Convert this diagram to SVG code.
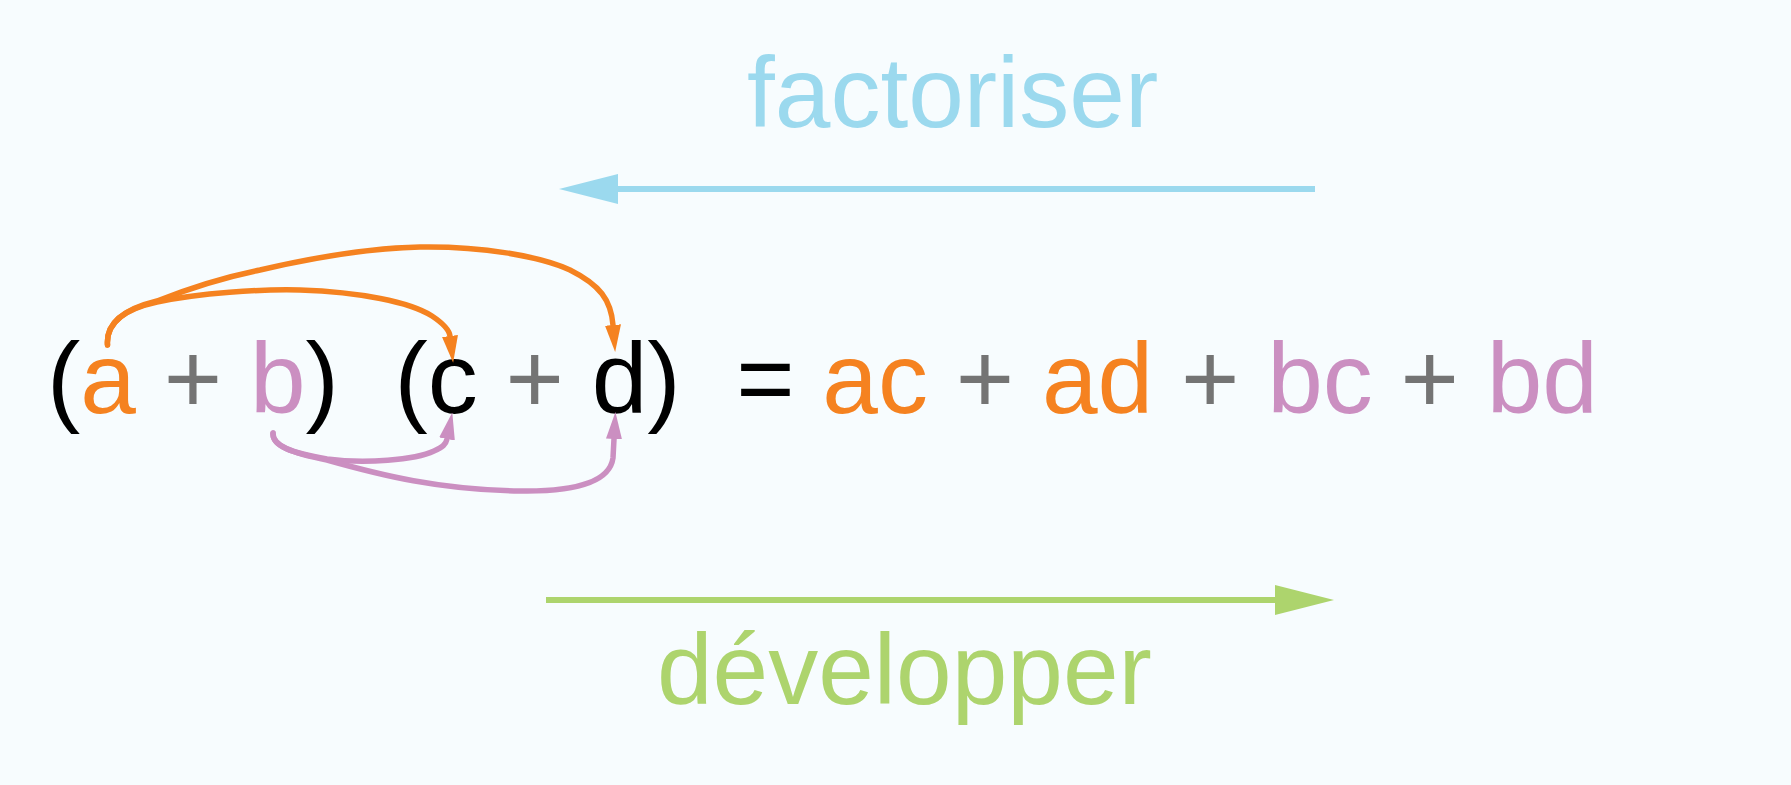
<svg xmlns="http://www.w3.org/2000/svg" width="1791" height="785" viewBox="0 0 1791 785">
  <style>
    text { font-family: "Liberation Sans", Arial, sans-serif; font-size: 100px; }
    .eq { fill: #000000; }
    .or { fill: #F58220; }
    .pk { fill: #CB8FC1; }
    .gr { fill: #747474; }
    .lbl-blue { fill: #9BD9EE; }
    .lbl-green { fill: #ADD46D; }
    .c-or { fill: none; stroke: #F58220; stroke-width: 5.5; stroke-linecap: round; }
    .c-pk { fill: none; stroke: #CB8FC1; stroke-width: 5.5; stroke-linecap: round; }
    .c-blue { fill: none; stroke: #9BD9EE; stroke-width: 6; }
    .c-green { fill: none; stroke: #ADD46D; stroke-width: 6; }
  </style>
  <defs>
    <marker id="m-or" markerUnits="userSpaceOnUse" markerWidth="27" markerHeight="16" viewBox="0 0 27 16" refX="0" refY="8" orient="auto">
      <path d="M0,0 L27,8 L0,16 Z" fill="#F58220"/>
    </marker>
    <marker id="m-pk" markerUnits="userSpaceOnUse" markerWidth="27" markerHeight="16" viewBox="0 0 27 16" refX="0" refY="8" orient="auto">
      <path d="M0,0 L27,8 L0,16 Z" fill="#CB8FC1"/>
    </marker>
    <marker id="m-blue" markerUnits="userSpaceOnUse" markerWidth="59" markerHeight="30" viewBox="0 0 59 30" refX="0" refY="15" orient="auto">
      <path d="M0,0 L59,15 L0,30 Z" fill="#9BD9EE"/>
    </marker>
    <marker id="m-green" markerUnits="userSpaceOnUse" markerWidth="59" markerHeight="30" viewBox="0 0 59 30" refX="0" refY="15" orient="auto">
      <path d="M0,0 L59,15 L0,30 Z" fill="#ADD46D"/>
    </marker>
  </defs>
  <rect x="0" y="0" width="1791" height="785" fill="#F7FCFE"/>

  <g id="label-factoriser">
    <text class="lbl-blue" x="747" y="127">factoriser</text>
  </g>

  <g id="equation">
    <text class="eq" x="47" y="413" xml:space="preserve"><tspan>(</tspan><tspan class="or">a</tspan><tspan class="gr"> + </tspan><tspan class="pk">b</tspan><tspan>)  (c</tspan><tspan class="gr"> + </tspan><tspan>d)  = </tspan><tspan class="or">ac</tspan><tspan class="gr"> + </tspan><tspan class="or">ad</tspan><tspan class="gr"> + </tspan><tspan class="pk">bc</tspan><tspan class="gr"> + </tspan><tspan class="pk">bd</tspan></text>
  </g>

  <g id="label-developper">
    <text class="lbl-green" x="657" y="704">développer</text>
  </g>

  <g id="connectors">
    <path class="c-blue" d="M1315,189 L618,189" marker-end="url(#m-blue)"/>
    <path class="c-green" d="M546,600 L1275,600" marker-end="url(#m-green)"/>
    <path class="c-or" d="M107.5,345 C106,325 120,310 157,302 C200,293 260,289 300,290 C360,292 410,302 432,316 C444,324 449.3,330 450,336" marker-end="url(#m-or)"/>
    <path class="c-or" d="M107.5,345 C106,325 120,310 157,301 C185,290 220,278 260,270 C320,256 370,248 420,247 C480,246 540,256 570,270 C600,285 611,300 613,325" marker-end="url(#m-or)"/>
    <path class="c-pk" d="M273,433 C272,446 292,453 327,459 C365,464 415,460 434,451 C443,447 446,444 447,439" marker-end="url(#m-pk)"/>
    <path class="c-pk" d="M273,433 C272,446 292,453 327,460 C380,475 440,490 520,491 C580,492 610,480 613,458 L614,439" marker-end="url(#m-pk)"/>
  </g>
</svg>
